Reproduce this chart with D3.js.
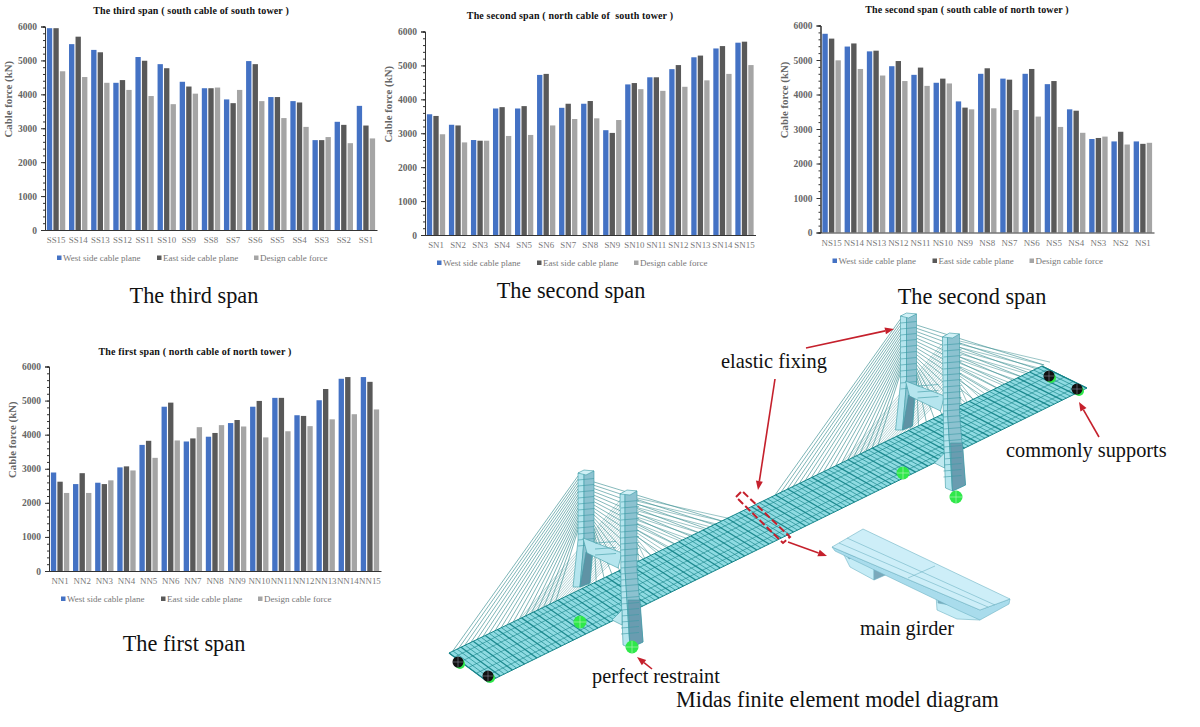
<!DOCTYPE html>
<html>
<head>
<meta charset="utf-8">
<script src="https://cdn.jsdelivr.net/npm/d3@7/dist/d3.min.js"></script>
<style>
html,body{margin:0;padding:0;background:#fff}
svg{display:block}
text{font-family:"Liberation Serif",serif;white-space:pre}
</style>
</head>
<body>
<svg id="c" width="1200" height="727"></svg>
<script>
const seriesNames = ["West side cable plane","East side cable plane","Design cable force"];
const seriesColors = ["#4472c4","#595959","#a5a5a5"];
const yTicks = [0,1000,2000,3000,4000,5000,6000];
const yMinorTicks = d3.range(0,6001,200);

const ssCats = ["SS15","SS14","SS13","SS12","SS11","SS10","SS9","SS8","SS7","SS6","SS5","SS4","SS3","SS2","SS1"];
const ssWest = [5950,5480,5310,4340,5100,4890,4370,4180,3850,4980,3920,3800,2650,3190,3660];
const ssEast = [5950,5700,5240,4420,4990,4770,4230,4180,3740,4890,3920,3760,2650,3100,3080];
const ssDesign = [4680,4510,4340,4130,3950,3710,4020,4200,4130,3800,3300,3040,2740,2560,2700];

const snCats = ["SN1","SN2","SN3","SN4","SN5","SN6","SN7","SN8","SN9","SN10","SN11","SN12","SN13","SN14","SN15"];
const snWest = [3560,3250,2800,3730,3730,4720,3750,3870,3090,4440,4650,4890,5240,5500,5670];
const snEast = [3510,3230,2780,3770,3800,4750,3870,3950,3010,4480,4650,5010,5290,5570,5700];
const snDesign = [2970,2730,2780,2920,2950,3230,3420,3440,3390,4300,4250,4370,4560,4750,5010];

const nsCats = ["NS15","NS14","NS13","NS12","NS11","NS10","NS9","NS8","NS7","NS6","NS5","NS4","NS3","NS2","NS1"];
const nsWest = [5760,5390,5250,4820,4570,4340,3800,4600,4460,4600,4300,3570,2710,2640,2640];
const nsEast = [5620,5480,5270,4970,4780,4460,3620,4760,4430,4740,4390,3530,2740,2920,2570];
const nsDesign = [4990,4740,4550,4390,4250,4320,3570,3600,3550,3360,3060,2890,2780,2550,2600];

const nnCats = ["NN1","NN2","NN3","NN4","NN5","NN6","NN7","NN8","NN9","NN10","NN11","NN12","NN13","NN14","NN15"];
const nnWest = [2890,2550,2590,3040,3700,4820,3800,3940,4340,4820,5080,4570,5010,5640,5690];
const nnEast = [2620,2870,2550,3070,3820,4940,3890,4050,4430,4990,5080,4550,5340,5690,5550];
const nnDesign = [2290,2290,2660,2950,3320,3830,4220,4280,4240,3920,4100,4250,4450,4600,4740];

const svg = d3.select("#c");

function drawChart(o){
  const g = svg.append("g");
  const x = d3.scaleBand().domain(o.cats).range([o.left,o.right]);
  const x1 = d3.scaleBand().domain([0,1,2]).range([0,x.bandwidth()]).paddingInner(0.18).paddingOuter(0.29);
  const y = d3.scaleLinear().domain([0,6000]).range([o.bottom,o.top]);

  o.series.forEach((vals,si)=>{
    g.append("g").selectAll("rect").data(vals).join("rect")
      .attr("x",(d,i)=>x(o.cats[i])+x1(si))
      .attr("width",x1.bandwidth())
      .attr("y",d=>y(d))
      .attr("height",d=>y(0)-y(d))
      .attr("fill",seriesColors[si]);
  });

  const minor = g.append("g").attr("transform",`translate(${o.left},0)`)
    .call(d3.axisLeft(y).tickValues(yMinorTicks).tickSize(2).tickFormat(""));
  minor.selectAll("path,line").attr("stroke","#333");
  const major = g.append("g").attr("transform",`translate(${o.left},0)`)
    .call(d3.axisLeft(y).tickValues(yTicks).tickSize(4).tickPadding(4).tickFormat(d3.format("d")));
  major.selectAll("path,line").attr("stroke","#333");
  major.selectAll("text").attr("font-size",9.5).attr("font-weight","bold").attr("fill","#666")
    .style("font-family",'"Liberation Serif",serif');

  const xa = g.append("g").attr("transform",`translate(0,${o.bottom})`)
    .call(d3.axisBottom(x).tickSize(0).tickPadding(7));
  xa.select("path").attr("stroke","#333");
  xa.selectAll("text").attr("font-size",8.9).attr("fill","#777")
    .style("font-family",'"Liberation Serif",serif');

  g.append("text").attr("transform",`translate(${o.left-33},${(o.top+o.bottom)/2-29}) rotate(-90)`)
    .attr("text-anchor","middle").attr("font-size",10.8).attr("font-weight","bold").attr("fill","#666")
    .text("Cable force (kN)");
  g.append("text").attr("x",o.titleX).attr("y",o.titleY).attr("text-anchor","middle")
    .attr("font-size",10).attr("font-weight","bold").attr("fill","#111").attr("letter-spacing",0.15)
    .text(o.title);

  const legendX = [12,112,209];
  seriesNames.forEach((n,i)=>{
    g.append("rect").attr("x",o.left+legendX[i]).attr("y",o.legendY-2.5).attr("width",4.5).attr("height",4.5).attr("fill",seriesColors[i]);
    g.append("text").attr("x",o.left+legendX[i]+6).attr("y",o.legendY+3).attr("font-size",9)
      .attr("fill","#777").text(n);
  });

  g.append("text").attr("x",o.capX).attr("y",o.capY).attr("text-anchor","middle")
    .attr("font-size",22.3).attr("fill","#111").text(o.caption);
}

drawChart({cats:ssCats,series:[ssWest,ssEast,ssDesign],left:45,right:377,top:26.5,bottom:230,
  title:"The third span ( south cable of south tower )",titleX:191,titleY:14,legendY:258,caption:"The third span",capX:194,capY:303});
drawChart({cats:snCats,series:[snWest,snEast,snDesign],left:425,right:755.5,top:31.5,bottom:235,
  title:"The second span ( north cable of  south tower )",titleX:570,titleY:19,legendY:263,caption:"The second span",capX:571,capY:298});
drawChart({cats:nsCats,series:[nsWest,nsEast,nsDesign],left:820.5,right:1154,top:25.5,bottom:232.5,
  title:"The second span ( south cable of north tower )",titleX:967,titleY:13,legendY:261,caption:"The second span",capX:972,capY:304});
drawChart({cats:nnCats,series:[nnWest,nnEast,nnDesign],left:49,right:381,top:366.5,bottom:571,
  title:"The first span ( north cable of north tower )",titleX:195,titleY:355,legendY:599,caption:"The first span",capX:184,capY:651});

/* ---- Midas finite element model illustration ---- */
const deckNearBack = [449,653], deckNearFront = [488,682], deckFarFront = [1087,388], deckFarBack = [1042,366];
const towerOffsets = [[0,0],[322.5,-157]];
const supportSpheres = [[580,622],[632,647],[903,473],[956,497]];
const endSupports = [[458,662],[488,676],[1049,376],[1077,389]];
const cableCount = 18;
const m = svg.append("g");
const lerp = (a,b,t)=>[a[0]+(b[0]-a[0])*t,a[1]+(b[1]-a[1])*t];
const backEdge = t=>lerp(deckNearBack,deckFarBack,t);
const frontEdge = t=>lerp(deckNearFront,deckFarFront,t);
const line = d3.line();
const CABLE = "#3d8f92", TEAL = "#16858a", FILL = "#8fdbe2", EDGE = "#3a9aa5";

function cables(from,t0,t1,edge,offset,op){
  const tScale = d3.scaleLinear().domain([0,cableCount-1]);
  const yS = tScale.copy().range([from[1],from[2]]);
  const tS = tScale.copy().range([t0,t1]);
  d3.range(cableCount).forEach(i=>{
    m.append("path").attr("d",line([[from[0]+offset[0],yS(i)+offset[1]],edge(tS(i)+offset[2])]))
      .attr("stroke",CABLE).attr("stroke-width",0.7).attr("fill","none").attr("opacity",op);
  });
}
const spanOff = 0.5435;
towerOffsets.forEach((o,k)=>{
  const of = [o[0],o[1],k?spanOff:0];
  cables([578,476,530],0.006,0.18,backEdge,of,0.95);
  cables([594,482,538],0.46,0.235,backEdge,of,0.9);
  cables([637,498,552],0.47,0.3,backEdge,of,0.75);
  cables([622,498,552],0.12,0.235,backEdge,of,0.55);
});

// deck
m.append("path").attr("d",line([deckNearBack,deckNearFront,deckFarFront,deckFarBack])+"Z").attr("fill",FILL).attr("stroke",TEAL).attr("stroke-width",1);
d3.range(0,1.0001,0.0068).forEach((t,i)=>{
  m.append("path").attr("d",line([backEdge(t),frontEdge(t)])).attr("stroke",TEAL).attr("stroke-width",i%3===0?1.25:0.7).attr("opacity",0.95);
});
[0.14,0.3,0.5,0.7,0.86].forEach(f=>{
  m.append("path").attr("d",line([lerp(deckNearBack,deckNearFront,f),lerp(deckFarBack,deckFarFront,f)])).attr("stroke",TEAL).attr("stroke-width",0.6).attr("fill","none");
});

function tower(o,front){
  const T = p=>[p[0]+o[0],p[1]+o[1]];
  const g = m.append("g");
  const poly = (pts,fill)=>g.append("path").attr("d",line(pts.map(T))+"Z").attr("fill",fill).attr("stroke",EDGE).attr("stroke-width",0.6);
  const bands = (ys,x0,x1)=>ys.forEach(yy=>g.append("path").attr("d",line([T([x0,yy]),T([x1,yy-1.5])])).attr("stroke",EDGE).attr("stroke-width",0.6));
  if(!front){
    poly([[578,473],[584,472],[584,540],[580,587],[573,587],[578,540]],"#b5e5ee");
    poly([[584,472],[594,471],[594,540],[590,583],[580,587],[584,540]],"#8cc2d0");
    poly([[586,552],[592,552],[590,583],[580,587]],"#5f93a5");
    poly([[578,473],[584,470],[594,471],[586,475]],"#d0f0f6");
    bands(d3.range(480,548,6),578,594);
    poly([[583,538],[622,553],[618,568],[587,553]],"#b5e5ee");
    bands([543,549,555],595,616);
  } else {
    poly([[620,494],[625,492],[625,570],[630,648],[623,645],[621,590]],"#b5e5ee");
    poly([[625,492],[637,491],[637,570],[643,642],[630,648],[625,570]],"#8cc2d0");
    poly([[628,600],[640,600],[643,642],[630,648]],"#6a9cb0");
    poly([[620,494],[627,490],[637,491],[630,495]],"#d0f0f6");
    bands(d3.range(502,640,6),621,639);
    poly([[612,620],[622,610],[622,625]],"#bfe9f0");
  }
}
towerOffsets.forEach(o=>{tower(o,false);tower(o,true);});

supportSpheres.forEach(c=>{
  m.append("circle").attr("cx",c[0]).attr("cy",c[1]).attr("r",6.5).attr("fill","#2fe84a");
  m.append("path").attr("d",line([[c[0]-6,c[1]],[c[0]+6,c[1]]])).attr("stroke","#b8f5c0").attr("stroke-width",0.6);
  m.append("path").attr("d",line([[c[0],c[1]-6],[c[0],c[1]+6]])).attr("stroke","#b8f5c0").attr("stroke-width",0.6);
});
endSupports.forEach(c=>{
  m.append("circle").attr("cx",c[0]+2).attr("cy",c[1]+2).attr("r",5).attr("fill","#2fe84a");
  m.append("circle").attr("cx",c[0]).attr("cy",c[1]).attr("r",5.5).attr("fill","#111");
  m.append("path").attr("d",line([[c[0]-5,c[1]],[c[0]+5,c[1]]])).attr("stroke","#889").attr("stroke-width",0.6);
  m.append("path").attr("d",line([[c[0],c[1]-5],[c[0],c[1]+5]])).attr("stroke","#889").attr("stroke-width",0.6);
});

// main girder
const girderTop = [[832,547],[863,529],[1010,599],[980,610]];
const girderWall = [[832,547],[980,610],[1010,599],[1009,604],[980,620],[960,611],[835,551]];
const girderBox1Face = [[843,553],[850,567],[874,580],[874,567]];
const girderBox1Side = [[874,567],[890,573],[874,580]];
const girderHole1 = [[845,553],[852,551],[858,556],[849,559]];
const girderBox2Face = [[936,595],[937,610],[957,619],[980,620],[980,612]];
const girderHole2 = [[938,597],[948,600],[950,605],[938,603]];
const G = m.append("g");
const gPoly = (p,fill)=>G.append("path").attr("d",line(p)+"Z").attr("fill",fill).attr("stroke","#6fb3c4").attr("stroke-width",0.6);
gPoly(girderBox1Face,"#c5ecf6");
gPoly(girderBox1Side,"#7ba9bb");
gPoly(girderHole1,"#7ba9bb");
gPoly(girderBox2Face,"#c5ecf6");
gPoly(girderHole2,"#7ba9bb");
gPoly(girderWall,"#a9dcec");
gPoly(girderTop,"#cdeef8");
[[[847,538],[995,605]],[[839,543],[988,607]],[[908,578],[935,566]]].forEach(s=>G.append("path").attr("d",line(s)).attr("stroke","#6fb3c4").attr("stroke-width",0.6));

// red annotations
const RED = "#c5202c";
const arrowSegs = [[[775,379],[758,490]],[[806,348],[894,329]],[[788,542],[827,556]],[[652,669],[637,657]],[[1099,437],[1079,402]]];
const dashBox = [[736,497],[742,491],[790,537],[783,543]];
m.append("path").attr("d",line(dashBox)+"Z").attr("fill","none").attr("stroke",RED).attr("stroke-width",2).attr("stroke-dasharray","7,3");
arrowSegs.forEach(s=>{
  const a = Math.atan2(s[1][1]-s[0][1],s[1][0]-s[0][0]), L=9, W=3.5;
  const b = [s[1][0]-L*Math.cos(a),s[1][1]-L*Math.sin(a)];
  m.append("path").attr("d",line([s[0],b])).attr("stroke",RED).attr("stroke-width",1.6);
  m.append("path").attr("d",line([s[1],[b[0]-W*Math.sin(a),b[1]+W*Math.cos(a)],[b[0]+W*Math.sin(a),b[1]-W*Math.cos(a)]])+"Z").attr("fill",RED);
});

const annotationTexts = [["elastic fixing",721,368,20.4],["perfect restraint",592,683,20.3],["commonly supports",1006,457,20.3],["main girder",860,635,20.3],["Midas finite element model diagram",676,707,22.2]];
m.selectAll("text.a").data(annotationTexts).join("text").attr("class","a")
  .attr("x",d=>d[1]).attr("y",d=>d[2]).attr("font-size",d=>d[3]).attr("fill","#111").text(d=>d[0]);
</script>
</body>
</html>
